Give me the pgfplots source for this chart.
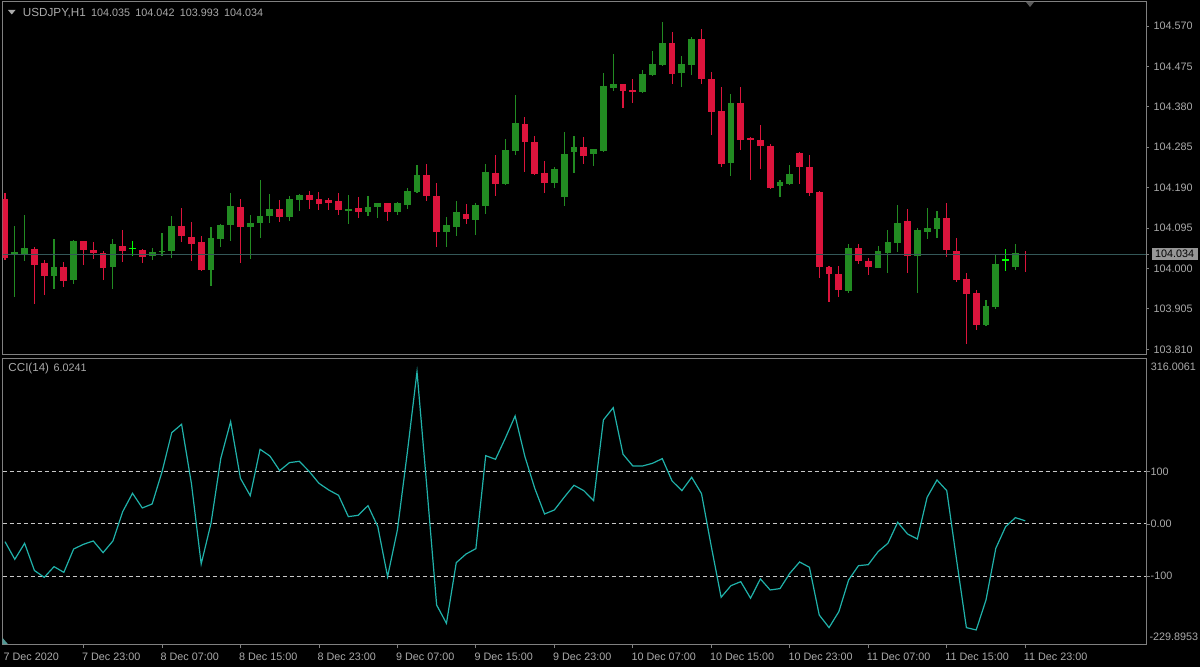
\documentclass[border=0pt]{standalone}
\usepackage{pgfplots}
\pgfplotsset{compat=1.18}
\usepackage{pgfplotstable}
\usepackage{fontspec}
\setmainfont{Liberation Sans}

\definecolor{bull}{RGB}{34,139,34}
\definecolor{bear}{RGB}{220,20,60}
\definecolor{doji}{RGB}{0,255,0}
\definecolor{cciline}{RGB}{32,178,170}
\definecolor{frame}{RGB}{128,128,128}
\definecolor{txt}{RGB}{170,170,170}
\definecolor{bid}{RGB}{52,88,88}
\definecolor{bidbox}{RGB}{150,150,150}
\definecolor{lvl}{RGB}{200,200,200}
\newcommand\lbl{\fontsize{10.8}{12}\selectfont}

% USDJPY H1, bar index i (0 = 7 Dec 15:00, 104 = 11 Dec 23:00)
\pgfplotstableread{
i o h l c
1 104.034 104.101 103.934 104.038
2 104.035 104.127 104.018 104.049
5 103.983 104.069 103.952 104.005
7 103.972 104.066 103.964 104.064
11 104.003 104.069 103.951 104.058
15 104.029 104.049 104.021 104.040
16 104.039 104.083 104.029 104.043
17 104.043 104.123 104.024 104.101
21 103.998 104.098 103.960 104.072
22 104.070 104.105 104.050 104.104
23 104.102 104.179 104.064 104.147
25 104.099 104.127 104.024 104.109
26 104.107 104.208 104.072 104.124
27 104.124 104.177 104.108 104.141
29 104.122 104.171 104.112 104.164
30 104.162 104.177 104.137 104.173
35 104.136 104.173 104.105 104.141
37 104.133 104.173 104.124 104.145
38 104.145 104.153 104.118 104.153
40 104.133 104.157 104.127 104.153
41 104.150 104.190 104.141 104.184
42 104.181 104.243 104.178 104.222
45 104.086 104.122 104.051 104.102
46 104.098 104.159 104.078 104.133
48 104.116 104.156 104.080 104.150
49 104.148 104.246 104.130 104.228
51 104.199 104.306 104.197 104.280
52 104.277 104.408 104.268 104.344
56 104.202 104.239 104.191 104.234
57 104.170 104.321 104.149 104.271
58 104.274 104.311 104.225 104.286
60 104.268 104.283 104.243 104.280
61 104.277 104.459 104.274 104.430
62 104.424 104.505 104.418 104.433
65 104.415 104.467 104.413 104.459
66 104.456 104.511 104.454 104.481
67 104.479 104.580 104.477 104.531
69 104.459 104.502 104.427 104.481
70 104.479 104.545 104.456 104.540
74 104.249 104.410 104.219 104.389
79 104.193 104.210 104.170 104.203
80 104.199 104.243 104.196 104.222
86 103.948 104.058 103.942 104.049
89 104.003 104.054 104.001 104.043
90 104.038 104.092 103.991 104.064
91 104.061 104.150 104.038 104.107
93 104.029 104.095 103.942 104.090
94 104.086 104.141 104.069 104.095
95 104.092 104.135 104.072 104.118
100 103.868 103.928 103.866 103.913
101 103.910 104.033 103.905 104.012
103 104.006 104.058 103.997 104.038
}\bullbars

\pgfplotstableread{
i o h l c
0 104.165 104.178 104.020 104.024
3 104.046 104.051 103.917 104.009
4 104.015 104.020 103.937 103.983
6 104.005 104.017 103.957 103.972
8 104.064 104.065 104.007 104.043
9 104.043 104.063 104.024 104.038
10 104.037 104.043 103.975 104.003
12 104.054 104.092 104.015 104.041
14 104.045 104.047 104.015 104.029
18 104.101 104.144 104.064 104.076
19 104.076 104.109 104.018 104.058
20 104.064 104.078 103.996 103.998
24 104.144 104.164 104.012 104.099
28 104.141 104.161 104.110 104.122
31 104.173 104.184 104.141 104.162
32 104.164 104.181 104.138 104.153
33 104.162 104.167 104.138 104.156
34 104.159 104.179 104.127 104.138
36 104.141 104.170 104.121 104.133
39 104.153 104.155 104.112 104.133
43 104.220 104.247 104.159 104.170
44 104.170 104.202 104.050 104.086
47 104.130 104.153 104.104 104.118
50 104.224 104.266 104.170 104.199
53 104.340 104.358 104.228 104.297
54 104.297 104.311 104.220 104.222
55 104.224 104.254 104.179 104.202
59 104.286 104.309 104.246 104.265
63 104.433 104.435 104.378 104.418
64 104.421 104.445 104.390 104.415
68 104.531 104.557 104.435 104.459
71 104.540 104.563 104.435 104.447
72 104.447 104.462 104.314 104.369
73 104.372 104.427 104.239 104.246
75 104.389 104.427 104.280 104.303
76 104.307 104.310 104.210 104.304
77 104.303 104.337 104.234 104.290
78 104.288 104.294 104.188 104.190
81 104.273 104.275 104.199 104.240
82 104.239 104.268 104.173 104.179
83 104.180 104.182 103.977 104.003
84 104.006 104.007 103.922 103.989
85 103.989 104.006 103.934 103.951
87 104.049 104.057 104.012 104.018
88 104.018 104.026 103.985 104.003
92 104.110 104.141 103.991 104.029
96 104.118 104.153 104.026 104.043
97 104.043 104.072 103.969 103.975
98 103.975 103.989 103.822 103.940
99 103.942 103.951 103.856 103.868
104 104.035 104.042 103.993 104.034
}\bearbars

\pgfplotstableread{
i o h l c
13 104.045 104.066 104.029 104.045
102 104.005 104.047 103.995 104.005
}\dojibars

% CCI(14)
\pgfplotstableread{
i v
0 -33.8
1 -67.6
2 -37.0
3 -89.0
4 -102.0
5 -81.6
6 -92.5
7 -47.8
8 -38.9
9 -32.5
10 -54.8
11 -32.5
12 23.6
13 58.7
14 30.6
15 38.2
16 99.4
17 174.6
18 190.6
19 77.8
20 -76.5
21 1.3
22 125.6
23 195.6
24 87.3
25 54.1
26 142.8
27 130.0
28 102.0
29 117.3
30 119.8
31 100.7
32 77.8
33 65.0
34 54.8
35 14.0
36 16.6
37 35.0
38 -5.0
39 -100.7
40 -11.5
41 135.0
42 291.0
43 71.0
44 -155.0
45 -190.0
46 -74.0
47 -57.4
48 -47.2
49 130.6
50 123.7
51 163.9
52 206.5
53 128.7
54 68.3
55 19.1
56 26.8
57 51.0
58 74.0
59 63.7
60 44.6
61 198.9
62 222.4
63 133.3
64 110.9
65 110.9
66 116.0
67 124.9
68 82.2
69 63.7
70 89.3
71 58.0
72 -43.3
73 -140.2
74 -118.0
75 -110.3
76 -142.0
77 -105.0
78 -126.2
79 -123.6
80 -94.3
81 -72.7
82 -82.8
83 -174.0
84 -198.2
85 -167.6
86 -107.0
87 -79.7
88 -77.8
89 -52.9
90 -37.0
91 3.2
92 -19.1
93 -28.7
94 51.0
95 84.1
96 63.7
97 -68.8
98 -198.2
99 -202.7
100 -145.3
101 -46.5
102 -5.1
103 12.1
104 6.0241
}\cci

\pgfplotsset{
  wick/.style={draw=none, mark=none, forget plot,
    error bars/y dir=both, error bars/y explicit, error bars/error mark=none,
    error bars/error bar style={draw=#1, line width=1.1pt}},
  body/.style={draw=none, mark=none, forget plot,
    error bars/y dir=both, error bars/y explicit, error bars/error mark=none,
    error bars/error bar style={draw=#1, line width=6.8pt}},
}

\begin{document}
\begin{tikzpicture}
\path[use as bounding box, fill=black] (0,0) rectangle (1200pt,667pt);

% price panel
\begin{axis}[
    scale only axis, width=1143.3pt, height=353pt,
    at={(2.7pt,312pt)}, anchor=south west,
    xmin=-0.234, xmax=116.31, ymin=103.7966, ymax=104.6264,
    axis line style={frame, line width=1pt},
    xtick=\empty,
    ytick={103.810,103.905,104.000,104.095,104.190,104.285,104.380,104.475,104.570},
    yticklabels={103.810,103.905,104.000,104.095,104.190,104.285,104.380,104.475,104.570},
    ytick pos=right, yticklabel pos=right,
    tick align=outside, major tick length=3pt,
    tick style={frame, line width=0.8pt},
    yticklabel style={anchor=west, inner sep=0pt, xshift=4.5pt, font=\lbl, text=txt},
    extra y ticks={104.034}, extra y tick labels={104.034},
    extra y tick style={yticklabel style={fill=bidbox, text=black, inner xsep=3.5pt, inner ysep=2.3pt, xshift=-2pt}},
]
    \addplot[wick=bull] table[x=i, y expr={(\thisrow{h}+\thisrow{l})/2}, y error expr={(\thisrow{h}-\thisrow{l})/2}] {\bullbars};
    \addplot[body=bull] table[x=i, y expr={(\thisrow{o}+\thisrow{c})/2}, y error expr={max(abs(\thisrow{c}-\thisrow{o})/2,0.0012)}] {\bullbars};
    \addplot[wick=bear] table[x=i, y expr={(\thisrow{h}+\thisrow{l})/2}, y error expr={(\thisrow{h}-\thisrow{l})/2}] {\bearbars};
    \addplot[body=bear] table[x=i, y expr={(\thisrow{o}+\thisrow{c})/2}, y error expr={max(abs(\thisrow{c}-\thisrow{o})/2,0.0012)}] {\bearbars};
    \addplot[wick=doji, error bars/x dir=both, error bars/x fixed=0.33] table[x=i, y expr={(\thisrow{h}+\thisrow{l})/2}, y error expr={(\thisrow{h}-\thisrow{l})/2}] {\dojibars};
    \addplot[bid, line width=1pt, forget plot] coordinates {(-0.234,104.034) (116.31,104.034)};
\end{axis}

% CCI panel
\begin{axis}[
    scale only axis, width=1143.3pt, height=285.5pt,
    at={(2.7pt,22.8pt)}, anchor=south west,
    xmin=-0.234, xmax=116.31, ymin=-229.8953, ymax=316.0061,
    axis line style={frame, line width=1pt},
    xtick={8,16,...,104},
    xticklabels={7 Dec 23:00,8 Dec 07:00,8 Dec 15:00,8 Dec 23:00,9 Dec 07:00,9 Dec 15:00,9 Dec 23:00,10 Dec 07:00,10 Dec 15:00,10 Dec 23:00,11 Dec 07:00,11 Dec 15:00,11 Dec 23:00},
    extra x ticks={0}, extra x tick labels={7 Dec 2020},
    extra x tick style={major tick length=0pt, xticklabel style={yshift=-4pt}},
    xtick pos=bottom, xticklabel pos=bottom,
    ytick={-100,0,100}, yticklabels={-100,0.00,100},
    ytick pos=right, yticklabel pos=right,
    tick align=outside, major tick length=4pt,
    tick style={frame, line width=0.8pt},
    xticklabel style={anchor=north west, inner sep=0pt, xshift=-1.5pt, yshift=-5pt, font=\lbl, text=txt},
    yticklabel style={anchor=west, inner sep=0pt, xshift=0.5pt, font=\lbl, text=txt},
]
    \addplot[lvl, dash pattern=on 4pt off 3pt, line width=1pt, forget plot] coordinates {(-0.234,100) (116.31,100)};
    \addplot[lvl, dash pattern=on 4pt off 3pt, line width=1pt, forget plot] coordinates {(-0.234,0) (116.31,0)};
    \addplot[lvl, dash pattern=on 4pt off 3pt, line width=1pt, forget plot] coordinates {(-0.234,-100) (116.31,-100)};
    \addplot[cciline, line width=1.2pt, mark=none] table[x=i, y=v] {\cci};
\end{axis}

% panel texts
\fill[txt] (8pt,657pt) -- (15.5pt,657pt) -- (11.75pt,652.5pt) -- cycle;
\node[anchor=west, inner sep=0pt, font=\lbl, text=txt] at (22.7pt,654.3pt)
  {{\fontsize{11.7}{13}\selectfont USDJPY,H1}\hspace{5.4pt}104.035\hspace{5.3pt}104.042\hspace{5.3pt}103.993\hspace{5.3pt}104.034};
\node[anchor=west, inner sep=0pt, font=\lbl, text=txt] at (8.3pt,298.7pt)
  {{\fontsize{11.6}{13}\selectfont CCI(14)}\hspace{4.5pt}6.0241};
\node[anchor=north west, inner sep=0pt, font=\lbl, text=txt] at (1150.7pt,304pt) {316.0061};
\node[anchor=south west, inner sep=0pt, font=\lbl, text=txt] at (1149.3pt,26.5pt) {-229.8953};
\fill[frame!70!black] (1026pt,665pt) -- (1034pt,665pt) -- (1030pt,660pt) -- cycle;
\fill[cciline!50!frame] (2.7pt,22.8pt) -- (8pt,22.8pt) -- (2.7pt,29pt) -- cycle;
\end{tikzpicture}
\end{document}
